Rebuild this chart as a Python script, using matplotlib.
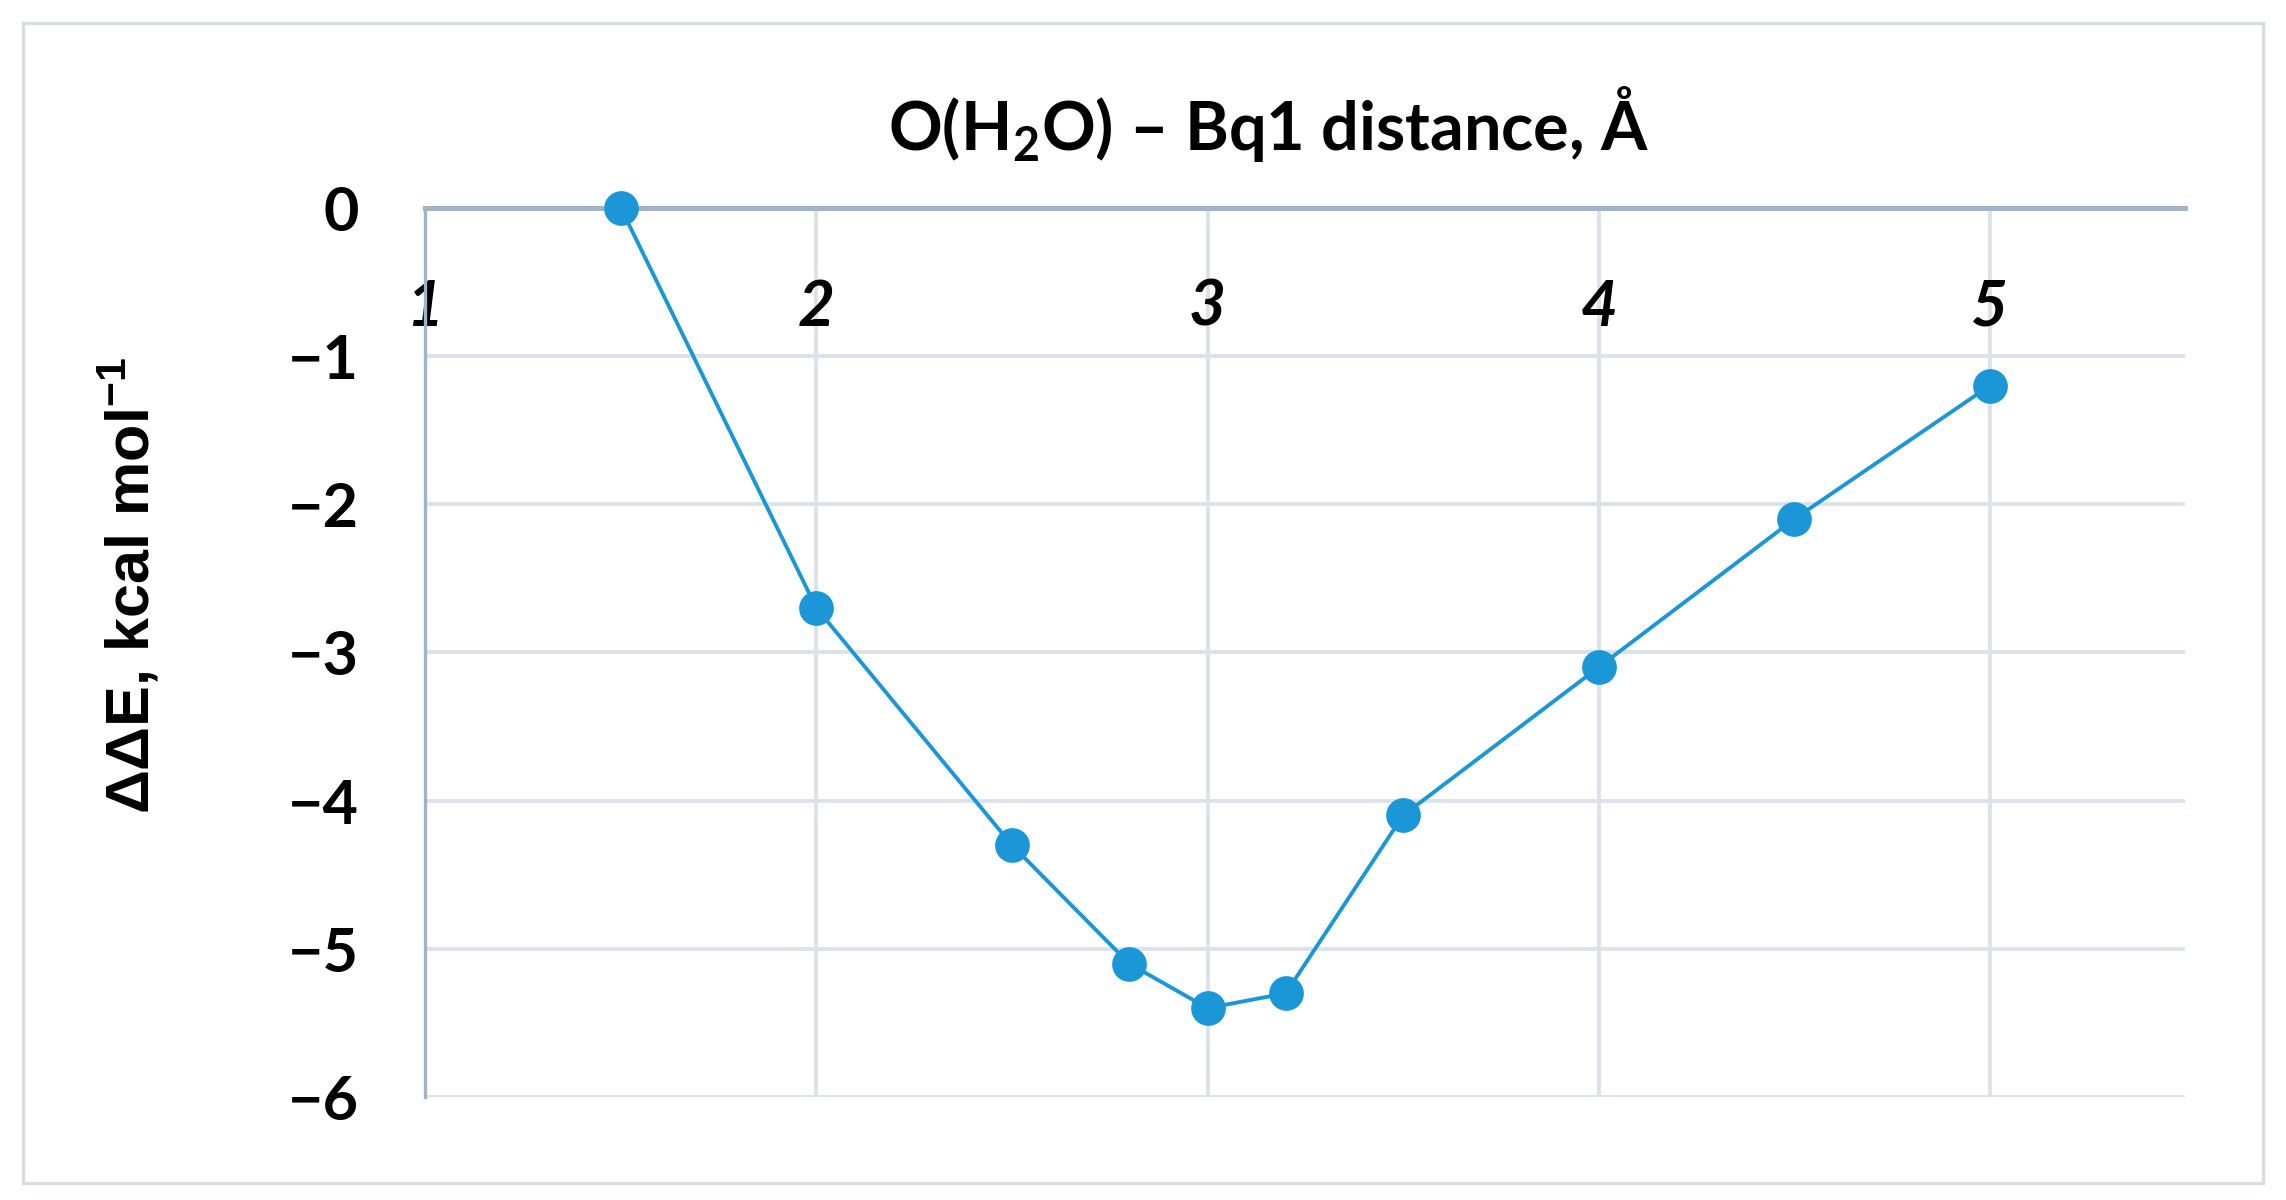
import matplotlib.pyplot as plt
from matplotlib.patches import Rectangle

# O(H2O)-Bq1 distance (A) and relative energy (kcal/mol)
distance = [1.5, 2.0, 2.5, 2.8, 3.0, 3.2, 3.5, 4.0, 4.5, 5.0]
dde = [0.0, -2.7, -4.3, -5.1, -5.4, -5.3, -4.1, -3.1, -2.1, -1.2]

x_ticks = [1, 2, 3, 4, 5]
y_ticks = [0, -1, -2, -3, -4, -5, -6]

line_color = '#1b96d7'
grid_color = '#dbe2ea'
axis_color = '#9fb3c9'

plt.rcParams['mathtext.fontset'] = 'custom'
plt.rcParams['mathtext.rm'] = 'Lato:bold'
plt.rcParams['mathtext.bf'] = 'Liberation Sans:bold'

fig = plt.figure(figsize=(11.43, 6), dpi=200)
ax = fig.add_axes([0.186, 0.0858, 0.770, 0.741])

# outer frame
fig.patches.append(Rectangle((0.010, 0.014), 0.980, 0.967, transform=fig.transFigure,
                             fill=False, edgecolor='#d9dde3', linewidth=1.2))

ax.plot(distance, dde, color=line_color, linewidth=1.4, marker='o',
        markersize=11.5, markerfacecolor=line_color, markeredgecolor=line_color,
        zorder=3, clip_on=False)

ax.set_xlim(1, 5.5)
ax.set_ylim(-6, 0)
ax.set_xticks(x_ticks)
ax.set_yticks(y_ticks)

ax.grid(True, color=grid_color, linewidth=1.4)
ax.set_axisbelow(True)

for side in ['right', 'bottom']:
    ax.spines[side].set_visible(False)
ax.spines['top'].set_color(axis_color)
ax.spines['top'].set_linewidth(1.8)
ax.spines['left'].set_color(axis_color)
ax.spines['left'].set_linewidth(1.2)

ax.tick_params(axis='x', top=True, bottom=False, labeltop=True, labelbottom=False,
               length=0, pad=-46)
ax.tick_params(axis='y', length=0, pad=24)
for lbl in ax.get_xticklabels():
    lbl.set_fontfamily('Lato')
    lbl.set_fontweight('bold')
    lbl.set_fontstyle('italic')
    lbl.set_fontsize(23)
for lbl in ax.get_yticklabels():
    lbl.set_fontfamily('Lato')
    lbl.set_fontweight('bold')
    lbl.set_fontsize(22)

fig.text(0.555, 0.897, r'O(H$_{\mathrm{2}}$O) – Bq1 distance, Å', ha='center', va='center',
         fontsize=24, fontfamily='Lato', fontweight='bold')

ax.set_ylabel(r'ΔΔE, kcal mol$^{\mathbf{-1}}$', fontsize=22, fontfamily='Liberation Sans',
              fontweight='bold')
ax.yaxis.set_label_coords(-0.149, 0.575)

fig.savefig('out.png', dpi=200, facecolor='white')
